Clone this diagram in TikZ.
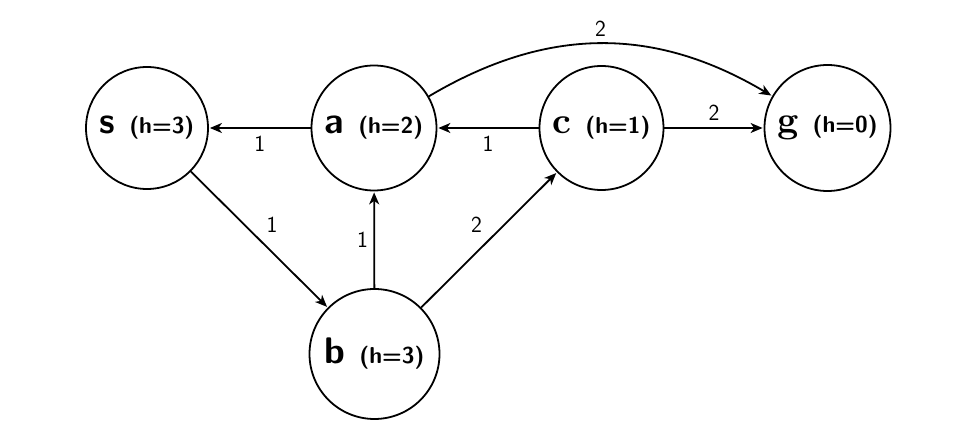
\documentclass[tikz,border=0pt]{standalone}
\usepackage{fontspec}
\newfontfamily\lmrb{lmroman10-bold.otf}
\usetikzlibrary{arrows.meta}
\tikzset{
  state/.style={circle,draw,line width=1.8pt,inner sep=0pt},
  arr/.style={line width=1.8pt,-{Stealth[length=12pt,width=10pt,inset=3.5pt]},shorten >=1pt},
  wt/.style={font=\sffamily\fontsize{23}{25}\selectfont},
}
\newcommand{\hlabel}[1]{{\sffamily\bfseries\fontsize{23}{26}\selectfont (h=#1)}}
\newcommand{\sfstate}[2]{{\sffamily\bfseries\fontsize{37}{40}\selectfont #1}\hspace{14pt}\hlabel{#2}}
\newcommand{\rmstate}[2]{{\lmrb\fontsize{37}{40}\selectfont #1}\hspace{14pt}\hlabel{#2}}
\begin{document}
\begin{tikzpicture}[x=1pt,y=1pt]
\useasboundingbox (0,0) rectangle (970,444);
\node[state,minimum size=122pt] (s) at (147,316) {\sfstate{s}{3}};
\node[state,minimum size=125pt] (a) at (374,316) {\sfstate{a}{2}};
\node[state,minimum size=124pt] (c) at (601.5,316) {\rmstate{c}{1}};
\node[state,minimum size=126pt] (g) at (827.5,316) {\rmstate{g}{0}};
\node[state,minimum size=130pt] (b) at (374.5,90) {\sfstate{b}{3}};
\draw[arr] (a) -- (s) node[wt,midway,below=4pt] (w1) {1};
\draw[arr] (c) -- (a) node[wt,midway,below=4pt] (w2) {1};
\draw[arr] (c) -- (g) node[wt,midway,above=3pt] (w3) {2};
\draw[arr] (a.30) .. controls +(118,70) and +(-118,70) .. (g.150) node[wt,pos=0.5,above=3pt] (w4) {2};
\draw[arr] (s) -- (b) node[wt,midway,above right=3pt] (w5) {1};
\draw[arr] (b) -- (a) node[wt,midway,left=2pt] (w6) {1};
\draw[arr] (b) -- (c) node[wt,midway,above left=3pt] (w7) {2};
\end{tikzpicture}
\end{document}
